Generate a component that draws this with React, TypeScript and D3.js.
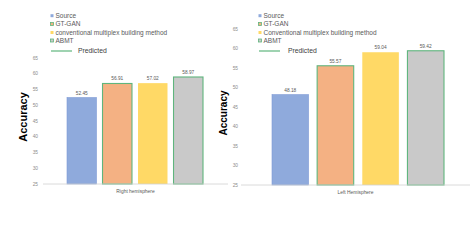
import React from 'react';
import { scaleLinear, scaleBand } from 'd3';

const categories = ['Source', 'GT-GAN', 'Conventional multiplex building method', 'ABMT'];
const leftLegendNames = ['Source', 'GT-GAN', 'conventional  multiplex building method', 'ABMT'];
const rightHemisphere = [52.45, 56.91, 57.02, 58.97];
const leftHemisphere = [48.18, 55.57, 59.04, 59.42];
const yTicks = [25, 30, 35, 40, 45, 50, 55, 60, 65];

const fills = ['#8faadc', '#f4b183', '#ffd966', '#c9c9c9'];
const strokes = ['#7e9ad6', '#5fb57d', 'none', '#5fb57d'];
const GREEN = '#5fb57d';

type PanelProps = {
  values: number[];
  names: string[];
  label: string;
  top: number;
  bottom: number;
  barL: number;
  barR: number;
  pad: number;
  axisL: number;
  axisR: number;
  tickX: number;
  titleX: number;
  titleY: number;
  titleSize: number;
  legendX: number;
  predX: number;
};

const Panel: React.FC<PanelProps> = (p) => {
  const y = scaleLinear().domain([25, 65]).range([p.bottom, p.top]);
  const x = scaleBand<string>()
    .domain(categories)
    .range([p.barL, p.barR])
    .paddingInner(p.pad)
    .paddingOuter(0);
  const rows = [15.7, 24, 32.5, 40.5];

  return (
    <g fontFamily="'Liberation Sans', Arial, sans-serif">
      {/* legend */}
      {p.names.map((n, i) => (
        <g key={n}>
          <rect
            x={p.legendX - 1.5}
            y={rows[i] - 1.5}
            width={3}
            height={3}
            fill={fills[i]}
            stroke={i === 1 || i === 3 ? GREEN : 'none'}
            strokeWidth={0.8}
          />
          <text x={p.legendX + 3.5} y={rows[i] + 2.3} fontSize={6.5} fill="#595959">{n}</text>
        </g>
      ))}
      <line x1={p.legendX - 1} x2={p.legendX + 20} y1={51} y2={51} stroke={GREEN} strokeWidth={1.2} />
      <text x={p.predX} y={53.3} fontSize={6.8} fill="#404040">Predicted</text>

      {/* y ticks */}
      {yTicks.map((t) => (
        <text key={t} x={p.tickX} y={y(t) + 1.7} fontSize={4.8} fill="#8c8c8c" textAnchor="end">{t}</text>
      ))}
      <text
        transform={`translate(${p.titleX},${p.titleY}) rotate(-90)`}
        fontSize={p.titleSize}
        fontWeight="bold"
        textAnchor="middle"
        fill="#000"
      >Accuracy</text>

      {/* bars */}
      {p.values.map((v, i) => (
        <g key={i}>
          <rect
            x={x(categories[i])!}
            y={y(v)}
            width={x.bandwidth()}
            height={p.bottom - y(v)}
            fill={fills[i]}
            stroke={strokes[i]}
            strokeWidth={i === 0 ? 0.6 : 1.1}
          />
          <text
            x={x(categories[i])! + x.bandwidth() / 2}
            y={y(v) - 3}
            fontSize={4.8}
            fill="#595959"
            textAnchor="middle"
          >{v.toFixed(2)}</text>
        </g>
      ))}
      <line x1={p.axisL} x2={p.axisR} y1={p.bottom} y2={p.bottom} stroke="#d0d0d0" strokeWidth={0.8} />
      <text x={(p.axisL + p.axisR) / 2} y={p.bottom + 9} fontSize={4.9} fill="#595959" textAnchor="middle">{p.label}</text>
    </g>
  );
};

const App: React.FC = () => {
  return (
    <div style={{ position: 'fixed', left: 0, top: 0 }}>
      <svg width={474} height={248} style={{ display: 'block', background: '#fff' }}>
        <Panel
          values={rightHemisphere}
          names={leftLegendNames}
          label="Right hemisphere"
          top={58}
          bottom={184}
          barL={67}
          barR={203}
          pad={0.17}
          axisL={43}
          axisR={228}
          tickX={38}
          titleX={27}
          titleY={117}
          titleSize={11}
          legendX={52}
          predX={78}
        />
        <Panel
          values={leftHemisphere}
          names={categories}
          label="Left Hemisphere"
          top={29}
          bottom={185}
          barL={272}
          barR={444}
          pad={0.19}
          axisL={241}
          axisR={470}
          tickX={238}
          titleX={227}
          titleY={113}
          titleSize={10}
          legendX={260}
          predX={288}
        />
      </svg>
    </div>
  );
};

export default App;
